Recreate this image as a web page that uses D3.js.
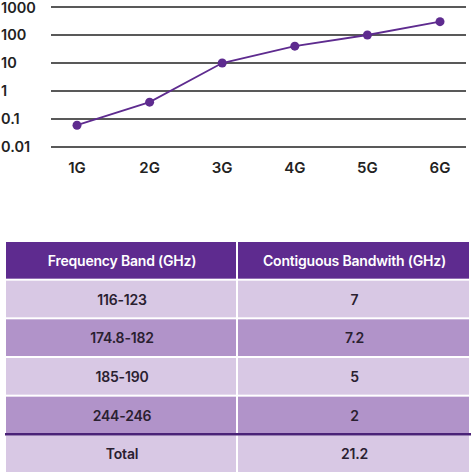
<!DOCTYPE html><html><head><meta charset="utf-8"><script src="https://cdn.jsdelivr.net/npm/d3@7"></script>
<style>body{margin:0;background:#fff}svg{display:block;font-family:Inter,"Open Sans",sans-serif}</style></head><body>
<svg id="c" width="474" height="474"></svg>
<script>
const categories=["1G","2G","3G","4G","5G","6G"];
const values=[0.06,0.4,10,40,100,300];
const yTicks=[0.01,0.1,1,10,100,1000];
const yTickLabels=["0.01","0.1","1","10","100","1000"];
const headers=["Frequency Band (GHz)","Contiguous Bandwith (GHz)"];
const bands=["116-123","174.8-182","185-190","244-246"];
const bandwidths=["7","7.2","5","2"];
const totalRow=["Total","21.2"];
const purple="#5e2b8f";
const svg=d3.select("#c");
const x=d3.scalePoint().domain(categories).range([77,440]);
const y=d3.scaleLog().domain([0.01,1000]).range([147,7]);
svg.append("g").selectAll("line").data(yTicks).join("line").attr("x1",51).attr("x2",466)
 .attr("y1",d=>y(d)).attr("y2",d=>y(d)).attr("stroke","#222").attr("stroke-width",1.5);
svg.append("g").selectAll("text").data(yTicks).join("text").attr("x",1).attr("y",d=>Math.max(13,y(d)+5))
 .text((d,i)=>yTickLabels[i]).attr("font-size",14.5).attr("font-weight",600).attr("fill","#222");
svg.append("g").selectAll("text").data(categories).join("text").attr("x",d=>x(d)).attr("y",173)
 .attr("text-anchor","middle").text(d=>d).attr("font-size",15).attr("font-weight",600).attr("fill","#222");
svg.append("path").datum(values).attr("fill","none").attr("stroke",purple).attr("stroke-width",1.8)
 .attr("d",d3.line().x((d,i)=>x(categories[i])).y(d=>y(d)));
svg.append("g").selectAll("circle").data(values).join("circle").attr("cx",(d,i)=>x(categories[i])).attr("cy",d=>y(d)).attr("r",4.5).attr("fill",purple);
const colX=[6,238,471];
const rows=[headers,...bands.map((b,i)=>[b,bandwidths[i]]),totalRow];
const rowY=d3.scaleBand().domain(d3.range(rows.length)).range([242,474]).paddingInner(0);
const fills=[purple,"#d8c8e4","#b193c9","#d8c8e4","#b193c9","#d8c8e4"];
rows.forEach((r,i)=>{
  r.forEach((t,j)=>{
    svg.append("rect").attr("x",colX[j]).attr("y",rowY(i)).attr("width",colX[j+1]-colX[j]-2).attr("height",rowY.bandwidth()-2).attr("fill",fills[i]);
    svg.append("text").attr("x",(colX[j]+colX[j+1])/2).attr("y",rowY(i)+rowY.bandwidth()/2+4.5)
      .attr("text-anchor","middle").attr("font-size",14).attr("font-weight",600).attr("letter-spacing",-0.2)
      .attr("fill",i===0?"#fff":"#2a2030").text(t);
  });
});
svg.append("line").attr("x1",5).attr("x2",471).attr("y1",rowY(5)-1).attr("y2",rowY(5)-1).attr("stroke","#4a2277").attr("stroke-width",2.5);
</script></body></html>
